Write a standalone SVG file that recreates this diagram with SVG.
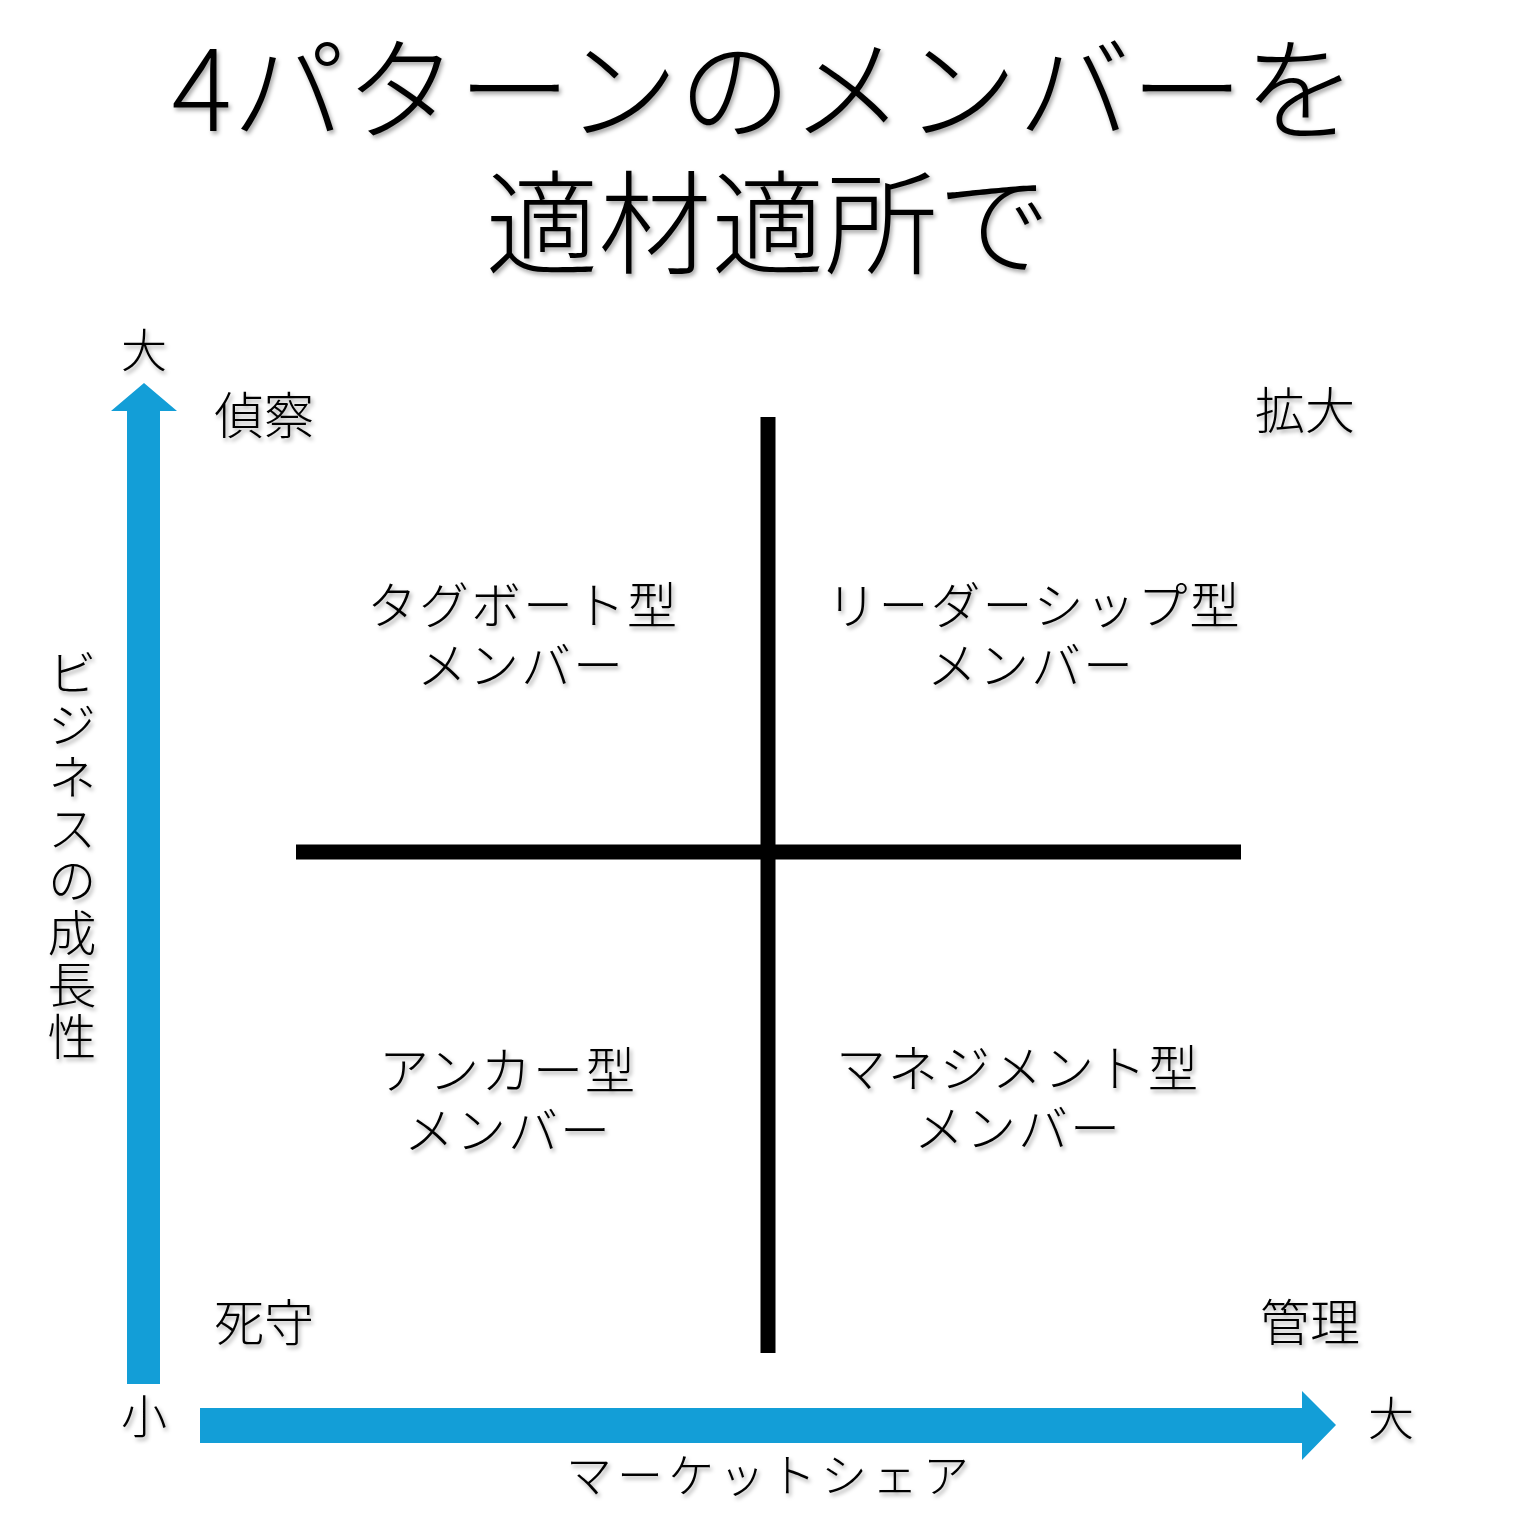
<svg xmlns="http://www.w3.org/2000/svg" width="1536" height="1536" viewBox="0 0 1536 1536">
<defs>
<filter id="sh" x="-10%" y="-10%" width="130%" height="130%">
<feDropShadow dx="2" dy="3" stdDeviation="2" flood-color="#000" flood-opacity="0.35"/>
</filter>
<style>
text{font-family:"Noto Sans CJK JP","Noto Sans",sans-serif;fill:#000;font-weight:300;text-anchor:middle;filter:url(#sh)}
.t{font-size:113px}
.q{font-size:50px;letter-spacing:2px}
.c{font-size:50px;text-anchor:start}
.a{font-size:46px}
.ax{fill:#139ED7}
.ln{stroke:#000;stroke-width:15;fill:none}
</style>
</defs>
<rect width="1536" height="1536" fill="#fff"/>
<g id="title">
<text class="t" x="764" y="131">4パターンのメンバーを</text>
<text class="t" x="768" y="265">適材適所で</text>
</g>
<g id="connectors">
<path class="ax" d="M127,1384 V411 H111 L144,383 L177,411 H160 V1384 Z"/>
<path class="ax" d="M200,1408 H1302 V1391 L1336,1425 L1302,1460 V1443 H200 Z"/>
<line class="ln" x1="768" y1="417" x2="768" y2="1353"/>
<line class="ln" x1="296" y1="852" x2="1241" y2="852"/>
</g>
<g id="axis-labels">
<text class="a" x="144" y="367">大</text>
<text class="a" x="144" y="1433">小</text>
<text class="a" x="1391" y="1435">大</text>
<text class="a" x="770" y="1492" style="letter-spacing:5px">マーケットシェア</text>
<text x="72" y="648" style="font-size:49px;writing-mode:vertical-rl;text-anchor:start;letter-spacing:3px">ビジネスの成長性</text>
</g>
<g id="corner-tl"><text class="c" x="214" y="434">偵察</text></g>
<g id="corner-tr"><text class="c" x="1255" y="429">拡大</text></g>
<g id="corner-bl"><text class="c" x="214" y="1341">死守</text></g>
<g id="corner-br"><text class="c" x="1260" y="1341">管理</text></g>
<g id="q-tugboat">
<text class="q" x="523" y="624">タグボート型</text>
<text class="q" x="521" y="684">メンバー</text>
</g>
<g id="q-leadership">
<text class="q" x="1034" y="624">リーダーシップ型</text>
<text class="q" x="1031" y="684">メンバー</text>
</g>
<g id="q-anchor">
<text class="q" x="508" y="1089">アンカー型</text>
<text class="q" x="508" y="1149">メンバー</text>
</g>
<g id="q-management">
<text class="q" x="1018" y="1087">マネジメント型</text>
<text class="q" x="1018" y="1147">メンバー</text>
</g>
</svg>
